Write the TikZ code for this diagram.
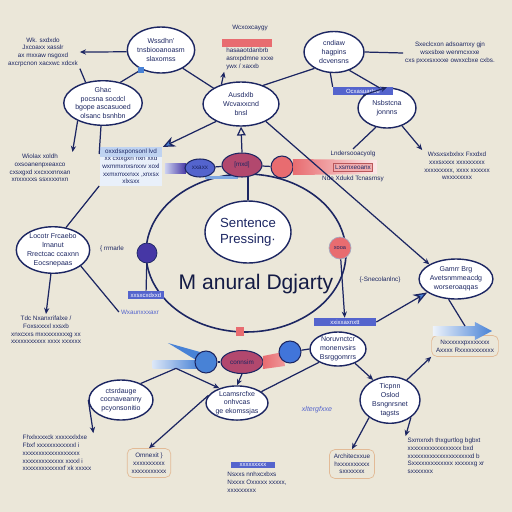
\documentclass[tikz,border=0pt]{standalone}
\usepackage{fontspec}
\setmainfont{Liberation Sans}
\usetikzlibrary{shapes.geometric,arrows.meta}
\definecolor{paper}{RGB}{235,231,217}
\definecolor{ink}{RGB}{28,38,98}
\definecolor{chainblue}{RGB}{84,100,205}
\definecolor{plum}{RGB}{70,55,165}
\definecolor{mauve}{RGB}{178,72,110}
\definecolor{salmon}{RGB}{232,108,112}
\definecolor{sky}{RGB}{72,130,214}
\definecolor{peach}{RGB}{226,186,150}
\begin{document}
\begin{tikzpicture}[x=0.02cm, y=-0.02cm,
	bubble/.style={ellipse, draw=ink, line width=0.8pt, fill=white, align=center, inner sep=0pt, text=ink, font=\fontsize{4}{5}\selectfont},
	note/.style={align=center, text=ink, font=\fontsize{3.6}{4.4}\selectfont, inner sep=1pt},
	framed/.style={note, draw=peach, rounded corners=3pt, inner sep=2.5pt},
	banner/.style={fill=chainblue, text=white, font=\fontsize{3.4}{4}\selectfont, inner sep=1pt},
	bead/.style={ellipse, draw=ink, line width=0.6pt, inner sep=0pt, text=ink, font=\fontsize{3.6}{4}\selectfont},
	link/.style={draw=ink, line width=0.7pt},
	tip/.style={-{Stealth[length=3.5pt,width=3pt]}}]

	\fill[paper] (0,0) rectangle (512,512);
	\useasboundingbox (0,0) rectangle (512,512);

	\draw[ink, line width=0.9pt] (246,253) ellipse [x radius=100, y radius=79];
	\fill[sky!70] (205,176) rectangle (238,179);

	\node[bubble, minimum width=1.72cm, minimum height=1.24cm, font=\fontsize{7.5}{9}\selectfont] (core) at (248,232) {Sentence\\Pressing·};
	\node[text=ink!70!black, font=\fontsize{12}{14}\selectfont] (title) at (256,284) {M anural Dgjarty};
	\coordinate (ringtop) at (248,174);
	\draw[link] (core.north) -- (ringtop);

	\node[bubble, minimum width=1.32cm, minimum height=0.92cm] (e1) at (161,50) {Wssdhn'\\tnsbiooanoasm\\slaxomss};
	\node[bubble, minimum width=1.52cm, minimum height=0.88cm] (e2) at (241,104) {Ausdxlb\\Wcvaxxcnd\\bnsl};
	\node[bubble, minimum width=1.2cm, minimum height=0.8cm] (e3) at (103,103) {Ghac\\pocsna socdcl\\bgope ascasuoed\\olsanc bsnhbn};
	\node[bubble, minimum width=1.2cm, minimum height=0.82cm] (e4) at (334,52) {cndiaw\\hagpins\\dcvensns};
	\node[bubble, minimum width=1.16cm, minimum height=0.8cm] (e5) at (387,108) {Nsbstcna\\jonnns};
	\node[bubble, minimum width=1.32cm, minimum height=0.84cm] (e6) at (53,250) {Locotr Frcaebo\\lrnanut\\Rrectcac ccaxnn\\Eocsnepaas};
	\node[bubble, minimum width=1.32cm, minimum height=0.8cm] (e7) at (456,279) {Gamrr Brg\\Avetsnmmeacdg\\worseroaqqas};
	\node[bubble, minimum width=1.28cm, minimum height=0.8cm] (e8) at (121,400) {ctsrdauge\\cocnaveanny\\pcyonsonitio};
	\node[bubble, minimum width=1.24cm, minimum height=0.68cm] (e9) at (237,403) {Lcamsrcfxe\\onhvcas\\ge ekomssjas};
	\node[bubble, minimum width=1.2cm, minimum height=0.8cm] (e10) at (390,400) {Ticpnn\\Oslod\\Bsngnrsnet\\tagsts};
	\node[bubble, minimum width=1.12cm, minimum height=0.68cm] (e11) at (338,349) {Noruvnctcr\\monenvsirs\\Bsrggomrrs};

	\node[note] (t1) at (43,52) {Wk. sxdxdo\\Jxcoaxx xasslr\\ax mxxaw nsgoxd\\axcrpcnon xacxwc xdcxk};
	\node[note] (t2h) at (250,28) {Wcxoxcaygy};
	\fill[salmon] (222,39) rectangle (272,47);
	\node[note, align=left] (t2) at (250,59) {hasaaotdanbrb\\asnxpdmne xxxe\\ywx / xaxxb};
	\node[note] (t3) at (450,53) {Sxeclcxon adsoarnxy gjn\\wsxsbxe wenmcxxxe\\cxs pxxxsxxxxe owxxcbxe cxbs.};
	\node[note] (t4) at (40,168) {Wiolax xoldh\\oxsoanenpxeaxco\\cxsxgxd xxcxxxnnxan\\xnxxxxxs ssxxxxnxn};
	\node[note, fill=sky!12, minimum width=1.26cm] (t5) at (131,170) {xx cxlxgxn hxn xxd\\wxmmxnxsnxxv xoxl\\xxmxmxxnxx ,xnxsx\\xlxsxx};
	\node[note, fill=sky!35, minimum width=1.26cm] (t5h) at (131,152) {oxxdsxponsonl lvd};
	\node[note] (t7) at (457,166) {Wxsxsxbxlxx Fxxdxd\\xxxsxxxx xxxxxxxxx\\xxxxxxxxx, xxxx xxxxxx\\wxxxxxxxx};
	\node[note] (t8) at (46,330) {Tdc Nxanxrifalxe /\\Foxsxxxxl xxsxb\\xnxcxxs mxxxxxxxxxg xx\\xxxxxxxxxxx xxxx xxxxxx};
	\node[note, align=left] (t9) at (57,453) {Fhxlxxxxck xxxxxxlxlxe\\Fbxf xxxxxxxxxxxxl  i\\xxxxxxxxxxxxxxxxxx\\xxxxxxxxxxxxx xxxxl i\\xxxxxxxxxxxxxf  xk xxxxx};
	\node[framed] (omn) at (149,463) {Omnexit \}\\xxxxxxxxxx\\xxxxxxxxxxx};
	\node[banner, minimum width=0.88cm] (bban) at (253,465) {xxxxxxxxx};
	\node[note, align=left] (t10) at (257,482) {Nsxxs nnhxcxbxs\\Nxxxx Oxxxxx  xxxxx,\\xxxxxxxxx};
	\node[framed] (arch) at (352,464) {Architecxxue\\hxxxxxxxxxx\\sxxxxxxx};
	\node[note, align=left] (t12) at (446,456) {Sxmxnxh thxgurtlog bgbxt\\xxxxxxxxxxxxxxxxx  bxd\\xxxxxxxxxxxxxxxxxxxxd b\\Sxxxxxxxxxxxxx xxxxxxg xr\\sxxxxxxx};
	\node[framed] (t13) at (465,346) {Nxxxxxxpxxxxxxx\\Axxxx Rxxxxxxxxxxx};
	\node[note, text=chainblue, font=\itshape\fontsize{4}{5}\selectfont] (t14) at (317,410) {xltergfxxe};
	\node[note] (t15) at (380,280) {\{-Snecolanlnc\}};
	\node[note] (t16) at (112,249) {\{ rrmarle};
	\node[note, text=chainblue] (t17) at (140,312) {Wxaunxxxaxr};

	\shade[left color=chainblue!30, right color=plum] (165,163) rectangle (186,173);
	\node[bead, fill=chainblue, minimum width=0.6cm, minimum height=0.36cm] (qa) at (200,168) {xxaxx};
	\node[bead, fill=mauve, minimum width=0.8cm, minimum height=0.48cm] (qb) at (242,165) {[mxd]};
	\node[bead, circle, fill=salmon, minimum size=0.44cm] (qc) at (282,167) {};
	\shade[left color=salmon, right color=salmon!15] (293,159) -- (377,160) -- (377,174) -- (293,175) -- cycle;
	\node[note] (t6h) at (353,154) {Lndersooacyolg};
	\node[fill=salmon!55, draw=salmon!80!black, text=ink, inner sep=1pt, font=\fontsize{3.6}{4}\selectfont] (t6) at (353,167) {Lxsmxeoanx};
	\node[note] (t6b) at (353,179) {Nde Xdukd Tcnasrnsy};
	\draw[link] (qa) -- (qb) -- (qc);

	\node[circle, fill=plum, draw=ink, minimum size=0.4cm, inner sep=0pt] (lbead) at (147,253) {};
	\node[circle, fill=salmon, draw=ink!40, minimum size=0.44cm, inner sep=0pt, text=ink, font=\fontsize{3.2}{4}\selectfont] (rbead) at (340,248) {xooa};
	\node[banner, minimum width=0.74cm] (lban) at (146,295) {xxsxcxdxxd};
	\node[banner, minimum width=1.24cm] (rban) at (345,322) {xxixxaxnxtt};
	\node[fill=salmon, minimum size=0.18cm, inner sep=0pt] (cube) at (240,331) {};

	\node[minimum width=0.94cm, minimum height=0.16cm, inner sep=0pt, left color=sky!20, right color=sky] (pbar) at (176,364) {};
	\fill[sky] (168,343) -- (200,352) -- (196,360) -- cycle;
	\node[bead, circle, fill=sky, minimum size=0.44cm] (pa) at (206,362) {};
	\node[bead, fill=mauve, minimum width=0.84cm, minimum height=0.46cm] (pb) at (242,362) {connsim};
	\shade[left color=salmon, right color=salmon!70] (263,356) -- (283,352) -- (285,366) -- (263,369) -- cycle;
	\node[bead, circle, fill=sky!90!blue, minimum size=0.44cm] (pc) at (290,352) {};
	\draw[link] (pa) -- (pb);

	\shade[left color=sky!10, right color=sky] (433,326) -- (475,326) -- (475,322) -- (492,331) -- (475,340) -- (475,336) -- (433,336) -- cycle;
	\coordinate (gradtip) at (465,326);
	\node[banner, minimum width=1.2cm] (e4ban) at (363,91) {Ocxasuartoe};

	\draw[link] (e3.50) -- (e1.225);
	\fill[sky] (e1.225) ++(-3,-3) rectangle ++(6,6);
	\draw[link, tip] (e1.183) -- (t1.east);
	\draw[link] (t1.south east) -- (e3.130);
	\draw[link, tip] (e3.215) -- (t4.north east);
	\draw[link] (e1.-40) -- (e2.150);
	\draw[link, tip] (e2.135) -- (t2.south west);
	\draw[link] (e2.40) -- (e4.220);
	\draw[link] (e4.east) -- (t3.west);
	\draw[link] (e4.260) -- (e4ban.north west);
	\draw[link] (e4.-50) -- (e5.110);
	\draw[link, tip] (e4ban.south) -- (e5.north);
	\draw[link] (e5.240) -- (t6h.north);
	\draw[link, tip] (e5.-50) -- (t7.north west);
	\draw[link, -{Stealth[length=7pt,width=6pt,fill=sky]}] (e2.215) -- (t5h.north east);
	\draw[link, -{Triangle[open,length=5pt,width=5pt]}] (qb.north) -- (e2.south);
	\draw[link] (e3.265) -- (t5.north west);
	\draw[link, tip] (e2.-35) -- (e7.north west);
	\draw[link] (e6.60) -- (t5.south west);
	\draw[link, tip] (e6.265) -- (t8.north);
	\draw[link] (e6.-30) -- (t17.west);
	\draw[link, -{Stealth[length=8pt,width=6pt,fill=sky]}] (rban.east) -- (e7.205);
	\draw[link] (e7.250) -- (gradtip);
	\draw[link] (lbead) -- (lban);
	\draw[link, tip] (rbead) -- (rban);
	\draw[link, tip] (e8.180) -- (t9.north east);
	\draw[link] (pbar.south) -- (e8.40);
	\draw[link, tip] (pbar.south) -- (e9.140);
	\draw[link, tip] (pb.south) -- (e9.north);
	\draw[link, tip] (e9.165) -- (omn.north);
	\draw[link] (e9.25) -- (e11.215);
	\draw[link] (pc) -- (e11.west);
	\draw[link, tip] (e11.-40) -- (e10.130);
	\draw[link, tip] (e10.220) -- (arch.north);
	\draw[link, tip] (e10.-40) -- (t12.north west);
	\draw[link, tip] (e10.50) -- (t13.south west);
\end{tikzpicture}
\end{document}
